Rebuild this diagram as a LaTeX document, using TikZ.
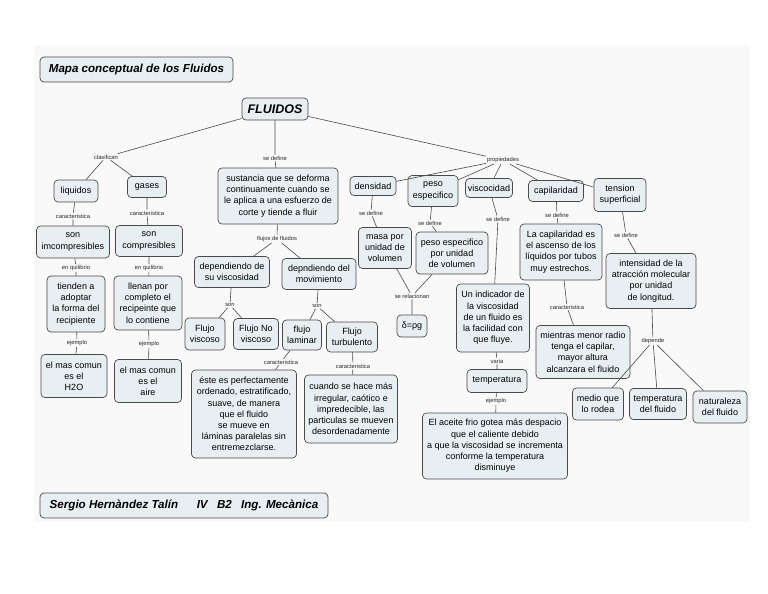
\documentclass[tikz,border=0pt]{standalone}
\usepackage{fontspec}
\setmainfont{Liberation Sans}
\usepackage{xcolor}
\usetikzlibrary{positioning}
\definecolor{cmapfill}{HTML}{E8EFF2}
\definecolor{cmapline}{HTML}{4A4A4A}
\definecolor{cmapback}{HTML}{F9F9F9}

\begin{document}
\begin{tikzpicture}[x=1pt,y=-1pt]
	\tikzset{
		concept/.style={draw=cmapline, fill=cmapfill, rounded corners=4pt,
			line width=0.7pt, align=center, inner sep=2pt,
			font=\fontsize{9}{11.2}\selectfont},
		cmaptitle/.style={concept, font=\fontsize{11.6}{13}\selectfont\bfseries\itshape},
		link/.style={font=\fontsize{5.8}{6.5}\selectfont, inner sep=1pt, text=black!85},
		conn/.style={draw=cmapline, line width=0.6pt},
	}
	\useasboundingbox (0,0) rectangle (768,594);
	\fill[cmapback] (34,45) rectangle (750,522);

	% titles
	\node[cmaptitle, minimum width=193, minimum height=25] (title) at (136.5,69.5) {Mapa conceptual de los Fluidos};
	\node[cmaptitle, font=\fontsize{12.5}{14}\selectfont\bfseries\itshape, minimum width=66, minimum height=22] (fluidos) at (275,109) {FLUIDOS};
	\node[cmaptitle, minimum width=288, minimum height=25] (autor) at (184,505.5)
		{Sergio Hernàndez Talín\hspace{1.6em}IV\hspace{0.8em}B2\hspace{0.8em}Ing. Mecànica};

	% clasificacion
	\node[link] (clas) at (106,157) {clasifican};
	\node[concept, minimum width=44, minimum height=22] (liq) at (76,191) {liquidos};
	\node[concept, minimum width=39, minimum height=21] (gas) at (147,187) {gases};
	\node[link] (car1) at (73,216) {caracteristica};
	\node[link] (car2) at (147,213) {caracteristica};
	\node[concept, minimum width=73, minimum height=32] (incomp) at (73,242) {son\\imcompresibles};
	\node[concept, minimum width=67, minimum height=31] (comp) at (149,241) {son\\compresibles};
	\node[link] (eq1) at (76,268) {en quilibrio};
	\node[link] (eq2) at (149,268) {en quilibrio};
	\node[concept, minimum width=58, minimum height=56] (tienden) at (76,304) {tienden a\\adoptar\\la forma del\\recipiente};
	\node[concept, minimum width=68, minimum height=54] (llenan) at (148,303) {llenan por\\completo el\\recipeinte que\\lo contiene};
	\node[link] (ej1) at (77,343) {ejemplo};
	\node[link] (ej2) at (149,344) {ejemplo};
	\node[concept, minimum width=66, minimum height=43] (htwo) at (74,376) {el mas comun\\es el\\H2O};
	\node[concept, minimum width=67, minimum height=43] (aire) at (148,381) {el mas comun\\es el\\aire};

	% definicion y flujos
	\node[link] (sdef1) at (275,158) {se define};
	\node[concept, minimum width=120, minimum height=56] (sust) at (278,196)
		{sustancia que se deforma\\continuamente cuando se\\le aplica a una esfuerzo de\\corte y tiende a fluir};
	\node[link] (flujos) at (277,239) {flujos de fluidos};
	\node[concept, minimum width=75, minimum height=31] (depvis) at (232,272) {dependiendo de\\su viscosidad};
	\node[concept, minimum width=74, minimum height=31] (depmov) at (319,274) {depndiendo del\\movimiento};
	\node[link] (son1) at (230,305) {son};
	\node[link] (son2) at (317,306) {son};
	\node[concept, minimum width=40, minimum height=32] (fvis) at (205,334) {Flujo\\viscoso};
	\node[concept, minimum width=45, minimum height=31] (fnovis) at (256,334) {Flujo No\\viscoso};
	\node[concept, minimum width=39, minimum height=30] (flam) at (302,335) {flujo\\laminar};
	\node[concept, minimum width=51, minimum height=30] (fturb) at (352,337) {Flujo\\turbulento};
	\node[link] (car3) at (281,362) {caracteristica};
	\node[link] (car4) at (353,366) {caracteristica};
	\node[concept, minimum width=105, minimum height=88] (este) at (244,414)
		{éste es perfectamente\\ordenado, estratificado,\\suave, de manera\\que el fluido\\se mueve en\\láminas paralelas sin\\entremezclarse.};
	\node[concept, minimum width=93, minimum height=68] (cuando) at (351,409)
		{cuando se hace más\\irregular, caótico e\\impredecible, las\\particulas se mueven\\desordenadamente};

	% propiedades
	\node[link] (prop) at (503,160) {propiedades};
	\node[concept, minimum width=46, minimum height=19] (dens) at (373,186) {densidad};
	\node[concept, minimum width=50, minimum height=31] (peso) at (433,191) {peso\\especifico};
	\node[concept, minimum width=47, minimum height=19] (visc) at (489,188) {viscocidad};
	\node[concept, minimum width=55, minimum height=21] (capi) at (556,191) {capilaridad};
	\node[concept, minimum width=52, minimum height=33] (tens) at (620,195) {tension\\superficial};
	\node[link] (sdef2) at (371,213) {se define};
	\node[link] (sdef3) at (430,223) {se define};
	\node[link] (sdef4) at (498,219) {se define};
	\node[link] (sdef5) at (557,215) {se define};
	\node[link] (sdef6) at (626,235) {se define};
	\node[concept, minimum width=53, minimum height=41] (masa) at (385,248) {masa por\\unidad de\\volumen};
	\node[concept, minimum width=72, minimum height=42] (pesou) at (452,253) {peso especifico\\por unidad\\de volumen};
	\node[link] (srel) at (412,296) {se relacionan};
	\node[concept, minimum width=30, minimum height=22] (rho) at (412,326) {δ=ρg};
	\node[concept, minimum width=73, minimum height=68] (indic) at (493,318)
		{Un indicador de\\la viscosidad\\de un fluido es\\la facilidad con\\que fluye.};
	\node[link] (varia) at (497,361) {varia};
	\node[concept, minimum width=60, minimum height=23] (temp) at (497,381) {temperatura};
	\node[link] (ej3) at (496,401) {ejemplo};
	\node[concept, minimum width=145, minimum height=66] (aceite) at (495,446)
		{El aceite frio gotea más despacio\\que el caliente debido\\a que la viscosidad se incrementa\\conforme la temperatura\\disminuye};
	\node[concept, minimum width=82, minimum height=56] (lacap) at (561,252)
		{La capilaridad es\\el ascenso de los\\líquidos por tubos\\muy estrechos.};
	\node[concept, minimum width=90, minimum height=55] (intens) at (651,281)
		{intensidad de la\\atracción molecular\\por unidad\\de longitud.};
	\node[link] (car5) at (567,307) {caracteristica};
	\node[concept, minimum width=94, minimum height=53] (mientras) at (583,352)
		{mientras menor radio\\tenga el capilar,\\mayor altura\\alcanzara el fluido};
	\node[link] (dep) at (653,341) {depende};
	\node[concept, minimum width=51, minimum height=32] (medio) at (598,404) {medio que\\lo rodea};
	\node[concept, minimum width=57, minimum height=31] (tempf) at (658,404) {temperatura\\del fluido};
	\node[concept, minimum width=54, minimum height=32] (nat) at (720,407) {naturaleza\\del fluido};

	% connectors
	\draw[conn]
		(fluidos) -- (clas)  (clas) -- (liq)  (clas) -- (gas)
		(liq) -- (car1)  (car1) -- (incomp)  (incomp) -- (eq1)  (eq1) -- (tienden)
		(tienden) -- (ej1)  (ej1) -- (htwo)
		(gas) -- (car2)  (car2) -- (comp)  (comp) -- (eq2)  (eq2) -- (llenan)
		(llenan) -- (ej2)  (ej2) -- (aire)
		(fluidos) -- (sdef1)  (sdef1) -- (sust)
		(sust) -- (flujos)  (flujos) -- (depvis)  (flujos) -- (depmov)
		(depvis) -- (son1)  (son1) -- (fvis)  (son1) -- (fnovis)
		(depmov) -- (son2)  (son2) -- (flam)  (son2) -- (fturb)
		(flam) -- (car3)  (car3) -- (este)
		(fturb) -- (car4)  (car4) -- (cuando)
		(fluidos) -- (prop)
		(prop) -- (dens)  (prop) -- (peso)  (prop) -- (visc)  (prop) -- (capi)  (prop) -- (tens)
		(dens) -- (sdef2)  (sdef2) -- (masa)
		(peso) -- (sdef3)  (sdef3) -- (pesou)
		(masa) -- (srel)  (pesou) -- (srel)  (srel) -- (rho)
		(visc) -- (sdef4)  (sdef4) -- (indic)  (indic) -- (varia)  (varia) -- (temp)
		(temp) -- (ej3)  (ej3) -- (aceite)
		(capi) -- (sdef5)  (sdef5) -- (lacap)  (lacap) -- (car5)  (car5) -- (mientras)
		(tens) -- (sdef6)  (sdef6) -- (intens)  (intens) -- (dep)
		(dep) -- (medio)  (dep) -- (tempf)  (dep) -- (nat);
\end{tikzpicture}
\end{document}
